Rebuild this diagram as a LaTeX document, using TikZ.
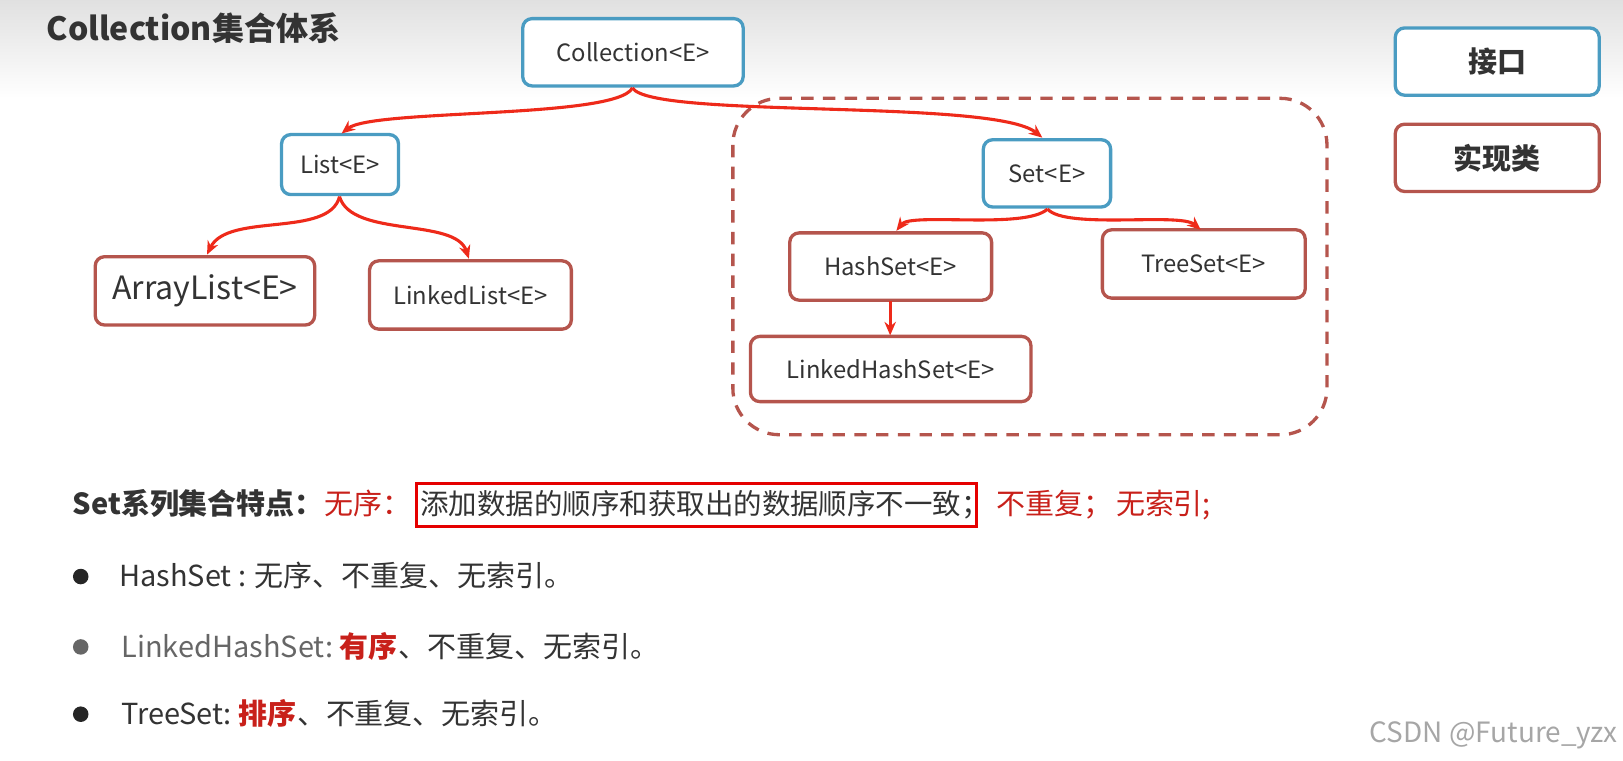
\documentclass[tikz,border=0pt]{standalone}
\usepackage{fontspec}
\setmainfont{Noto Sans CJK SC}
\usetikzlibrary{arrows.meta}
\definecolor{blu}{HTML}{4A9CC2}
\definecolor{brn}{HTML}{B5554D}
\definecolor{arr}{HTML}{EE2A1A}
\definecolor{txt}{HTML}{333333}
\definecolor{rd}{HTML}{C8201A}
\tikzset{
  iface/.style={draw=blu,line width=3.2pt,rounded corners=9pt,fill=white,text=txt,font=\fontsize{23}{25}\selectfont},
  impl/.style={draw=brn,line width=3.2pt,rounded corners=9pt,fill=white,text=txt,font=\fontsize{23}{25}\selectfont},
  conn/.style={draw=arr,line width=3pt,-{Stealth[length=13pt,width=11pt]}},
  lbl/.style={anchor=base west,inner sep=0pt,text=txt,font=\fontsize{28}{30}\selectfont},
  dotb/.style={circle,fill=#1,inner sep=0pt,minimum size=15pt}
}
\begin{document}
\begin{tikzpicture}[x=1pt,y=-1pt]
\useasboundingbox (0,0) rectangle (1568,735);
\shade[top color=black!12,bottom color=white] (0,0) rectangle (1568,95);
\node[anchor=west,inner sep=0pt,text=txt,font=\fontsize{31}{33}\selectfont\bfseries] (title) at (45,27) {Collection集合体系};
% dashed group
\draw[brn,line width=3.2pt,dash pattern=on 12pt off 9pt,rounded corners=45pt] (708,95) rectangle (1282,420);
% nodes
\path[iface] (505,18) rectangle (718,83) node[draw=none,fill=none,pos=.5] (coll) {Collection<E>};
\path[iface] (272,130) rectangle (385,188) node[draw=none,fill=none,pos=.5] (list) {List<E>};
\path[iface] (950,135) rectangle (1073,200) node[draw=none,fill=none,pos=.5] (set) {Set<E>};
\path[impl] (92,248) rectangle (304,314) node[draw=none,fill=none,pos=.5,font=\fontsize{31}{33}\selectfont] (al) {ArrayList<E>};
\path[impl] (357,252) rectangle (552,318) node[draw=none,fill=none,pos=.5] (ll) {LinkedList<E>};
\path[impl] (763,225) rectangle (958,290) node[draw=none,fill=none,pos=.5] (hs) {HashSet<E>};
\path[impl] (1065,222) rectangle (1261,288) node[draw=none,fill=none,pos=.5] (ts) {TreeSet<E>};
\path[impl] (725,325) rectangle (996,388) node[draw=none,fill=none,pos=.5] (lhs) {LinkedHashSet<E>};
\path[iface] (1348,27) rectangle (1545,92) node[draw=none,fill=none,pos=.5,font=\fontsize{28}{30}\selectfont\bfseries] (k1) {接口};
\path[impl] (1348,120) rectangle (1545,185) node[draw=none,fill=none,pos=.5,font=\fontsize{28}{30}\selectfont\bfseries] (k2) {实现类};
% anchors
\coordinate (cb) at (611,85);
\coordinate (lb) at (328,190);
\coordinate (sb) at (1012,202);
\draw[conn] (cb) .. controls (595,115) and (360,105) .. (330,129);
\draw[conn] (cb) .. controls (630,115) and (960,95) .. (1007,133);
\draw[conn] (lb) .. controls (318,230) and (220,205) .. (200,246);
\draw[conn] (lb) .. controls (340,230) and (440,210) .. (453,250);
\draw[conn] (sb) .. controls (990,222) and (880,205) .. (866,223);
\draw[conn] (sb) .. controls (1030,222) and (1140,205) .. (1160,222);
\draw[conn] (860,291) -- (860,324);
% text
\node[lbl,font=\fontsize{28}{30}\selectfont\bfseries] (s1) at (70,497) {Set系列集合特点：};
\node[lbl,text=rd] (s2) at (s1.base east) {无序：};
\node[lbl,font=\fontsize{27.5}{29}\selectfont] (s3) at (406,497) {添加数据的顺序和获取出的数据顺序不一致；};
\draw[red!90!black,line width=3pt] (402,467) rectangle (943,509);
\node[lbl,text=rd] (s4) at (963,497) {不重复；};
\node[lbl,text=rd] (s5) at (1078,497) {无索引;};
\node[dotb=black!85] (d1) at (78,557) {};
\node[dotb=black!60] (d2) at (78,625) {};
\node[dotb=black!85] (d3) at (78,690) {};
\node[lbl] (b1) at (115,567) {HashSet : 无序、不重复、无索引。};
\node[lbl,text=black!60] (b2a) at (117,635) {LinkedHashSet:};
\node[lbl,text=rd,font=\fontsize{28}{30}\selectfont\bfseries] (b2b) at ([xshift=6pt]b2a.base east) {有序};
\node[lbl] (b2c) at (b2b.base east) {、不重复、无索引。};
\node[lbl] (b3a) at (117,700) {TreeSet:};
\node[lbl,text=rd,font=\fontsize{28}{30}\selectfont\bfseries] (b3b) at ([xshift=6pt]b3a.base east) {排序};
\node[lbl] (b3c) at (b3b.base east) {、不重复、无索引。};
\node[anchor=east,inner sep=0pt,text=black!35,font=\fontsize{27}{29}\selectfont] (wm) at (1563,710) {CSDN @Future\_yzx};
\end{tikzpicture}
\end{document}
